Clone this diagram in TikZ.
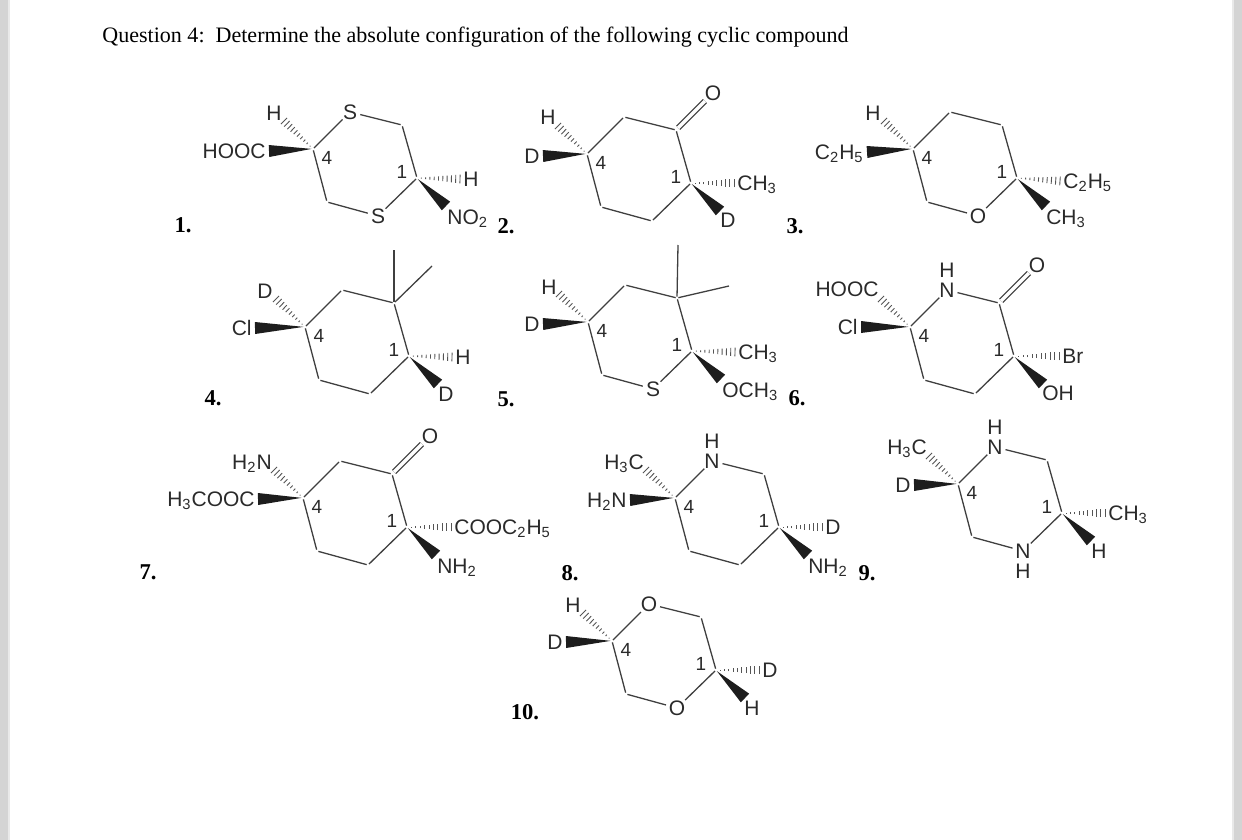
\documentclass[tikz,border=0pt]{standalone}
\usepackage{fontspec}
\usepackage{xcolor}
\usetikzlibrary{calc}
\setmainfont{Liberation Serif}
\newfontfamily\chemfont{Liberation Sans}
\definecolor{inkdark}{HTML}{2A2A2A}
\definecolor{sidegray}{HTML}{D4D4D4}
\definecolor{sidelight}{HTML}{E9E9E9}

\tikzset{
    bond/.style={draw=inkdark!90,line width=0.65pt,line join=round},
    dbond/.style={draw=inkdark!90,line width=0.6pt,double=white,double distance=1.7pt,shorten <=0.8pt},
    vert/.style={circle,inner sep=0pt,text=inkdark,font=\chemfont\fontsize{10.5}{12}\selectfont},
    lab/.style={inner sep=0pt,text=inkdark,text height=7.5pt,text depth=0pt,font=\chemfont\fontsize{10.5}{12}\selectfont},
    numlab/.style={inner sep=0pt,text=inkdark,font=\chemfont\fontsize{9.5}{11}\selectfont},
    item/.style={inner sep=0pt,font=\bfseries\fontsize{11.3}{13}\selectfont}
}

% narrow at the first point, wide at the second
\newcommand{\hashb}[2]{
    \coordinate (hend) at #2;
    \foreach \i in {1,...,10}{
        \pgfmathsetmacro{\hf}{\i/10}
        \pgfmathsetmacro{\hw}{\hf*2.2}
        \draw[draw=inkdark!80,line width=0.45pt] ($(#1)!\hf!(hend)!\hw pt!90:(#1)$) -- ($(#1)!\hf!(hend)!-\hw pt!90:(#1)$);
    }
}
\newcommand{\wedgeb}[2]{
    \coordinate (wend) at #2;
    \fill[inkdark!70!black] (#1) -- ($(wend)!3pt!90:(#1)$) -- ($(wend)!-3pt!90:(#1)$) -- cycle;
}

% name, x and y of atom 4, text at the top atom, text at the bottom atom
\newcommand{\ringsix}[5]{
    \node[vert] (#14) at (#2,#3) {};
    \node[vert] (#15) at ($(#14)+(37,-37)$) {#4};
    \node[vert] (#16) at ($(#14)+(89,-24)$) {};
    \node[vert] (#11) at ($(#14)+(104,29)$) {};
    \node[vert] (#12) at ($(#14)+(65,67)$) {#5};
    \node[vert] (#13) at ($(#14)+(14,53)$) {};
    \draw[bond] (#14) -- (#15) -- (#16) -- (#11) -- (#12) -- (#13) -- (#14);
    \node[numlab] (#1n4) at ($(#14)+(14,9)$) {4};
    \node[numlab] (#1n1) at ($(#11)+(-15,-6)$) {1};
}
% the four bonds out of atoms 4 and 1, to the labels L, R
\newcommand{\subst}[1]{
    \hashb{#14}{($(#14)+(-29,-28)$)}
    \wedgeb{#14}{($(#1L.east)+(3,0)$)}
    \hashb{#11}{($(#1R.west)+(-3,0)$)}
    \wedgeb{#11}{($(#11)+(29,28)$)}
}

\begin{document}
\begin{tikzpicture}[x=0.5pt,y=-0.5pt]
    \useasboundingbox (0,0) rectangle (1242,840);
    \fill[sidegray] (0,0) rectangle (8,840);
    \fill[sidelight] (8,0) rectangle (10,840);
    \fill[sidelight] (1232,0) rectangle (1234,840);
    \fill[sidegray] (1234,0) rectangle (1242,840);

    \node[inner sep=0pt,anchor=west,font=\fontsize{11.02}{14}\selectfont] (title) at (102,37)
        {Question 4:\ \ Determine the absolute configuration of the following cyclic compound};

    % 1
    \ringsix{A}{313}{149}{S}{S}
    \node[lab] (AU) at (274,113) {H};
    \node[lab,anchor=east] (AL) at (266,151) {HOOC};
    \node[lab,anchor=west] (AR) at (463,179) {H};
    \node[lab,anchor=west] (AB) at (447,217) {NO\textsubscript{2}};
    \subst{A}
    \node[item] (item1) at (183,225) {1.};

    % 2
    \ringsix{B}{587}{154}{}{}
    \node[vert] (BO) at (713,93) {O};
    \draw[dbond] (B6) -- (BO);
    \node[lab] (BU) at (548,117) {H};
    \node[lab,anchor=east] (BL) at (540,156) {D};
    \node[lab,anchor=west] (BR) at (737,183) {CH\textsubscript{3}};
    \node[lab] (BB) at (728,220) {D};
    \subst{B}
    \node[item] (item2) at (506,226) {2.};

    % 3
    \ringsix{C}{913}{149}{}{O}
    \node[lab] (CU) at (873,113) {H};
    \node[lab,anchor=east] (CL) at (864,152) {C\textsubscript{2}H\textsubscript{5}};
    \node[lab,anchor=west] (CR) at (1063,181) {C\textsubscript{2}H\textsubscript{5}};
    \node[lab] (CB) at (1066,217) {CH\textsubscript{3}};
    \subst{C}
    \node[item] (item3) at (795,226) {3.};

    % 4
    \ringsix{D}{305}{327}{}{}
    \coordinate (Dm1) at (394,250);
    \coordinate (Dm2) at (432,266);
    \draw[bond] (D6) -- (Dm1);
    \draw[bond] (D6) -- (Dm2);
    \node[lab] (DU) at (265,291) {D};
    \node[lab,anchor=east] (DL) at (252,328) {Cl};
    \node[lab,anchor=west] (DR) at (455,357) {H};
    \node[lab] (DB) at (446,394) {D};
    \subst{D}
    \node[item] (item4) at (213,398) {4.};

    % 5
    \ringsix{E}{588}{322}{}{S}
    \coordinate (Em1) at (678,245);
    \coordinate (Em2) at (729,286);
    \draw[bond] (E6) -- (Em1);
    \draw[bond] (E6) -- (Em2);
    \node[lab] (EU) at (549,287) {H};
    \node[lab,anchor=east] (EL) at (540,324) {D};
    \node[lab,anchor=west] (ER) at (738,352) {CH\textsubscript{3}};
    \node[lab,anchor=west] (EB) at (722,390) {OCH\textsubscript{3}};
    \subst{E}
    \node[item] (item5) at (506,399) {5.};

    % 6
    \ringsix{F}{910}{327}{N}{}
    \node[lab] (FH) at ($(F5)+(0,-20)$) {H};
    \node[vert] (FO) at (1037,265) {O};
    \draw[dbond] (F6) -- (FO);
    \node[lab] (FU) at (847,289) {HOOC};
    \node[lab,anchor=east] (FL) at (858,327) {Cl};
    \node[lab,anchor=west] (FR) at (1062,356) {Br};
    \node[lab] (FB) at (1058,393) {OH};
    \subst{F}
    \node[item] (item6) at (797,398) {6.};

    % 7
    \ringsix{G}{303}{498}{}{}
    \node[vert] (GO) at (430,436) {O};
    \draw[dbond] (G6) -- (GO);
    \node[lab] (GU) at (252,462) {H\textsubscript{2}N};
    \node[lab,anchor=east] (GL) at (255,499) {H\textsubscript{3}COOC};
    \node[lab,anchor=west] (GR) at (454,527) {COOC\textsubscript{2}H\textsubscript{5}};
    \node[lab] (GB) at (457,566) {NH\textsubscript{2}};
    \subst{G}
    \node[item] (item7) at (148,572) {7.};

    % 8
    \ringsix{H}{675}{498}{N}{}
    \node[lab] (HH) at ($(H5)+(0,-20)$) {H};
    \node[lab] (HU) at (624,462) {H\textsubscript{3}C};
    \node[lab,anchor=east] (HL) at (627,500) {H\textsubscript{2}N};
    \node[lab,anchor=west] (HR) at (825,527) {D};
    \node[lab] (HB) at (828,566) {NH\textsubscript{2}};
    \subst{H}
    \node[item] (item8) at (570,573) {8.};

    % 9
    \ringsix{I}{958}{484}{N}{N}
    \node[lab] (IH) at ($(I5)+(0,-20)$) {H};
    \node[lab] (IH2) at ($(I2)+(0,20)$) {H};
    \node[lab] (IU) at (907,447) {H\textsubscript{3}C};
    \node[lab,anchor=east] (IL) at (911,485) {D};
    \node[lab,anchor=west] (IR) at (1108,513) {CH\textsubscript{3}};
    \node[lab] (IB) at (1099,551) {H};
    \subst{I}
    \node[item] (item9) at (867,573) {9.};

    % 10
    \ringsix{J}{612}{641}{O}{O}
    \node[lab] (JU) at (573,605) {H};
    \node[lab,anchor=east] (JL) at (563,642) {D};
    \node[lab,anchor=west] (JR) at (762,670) {D};
    \node[lab] (JB) at (752,708) {H};
    \subst{J}
    \node[item] (item10) at (525,712) {10.};
\end{tikzpicture}
\end{document}
